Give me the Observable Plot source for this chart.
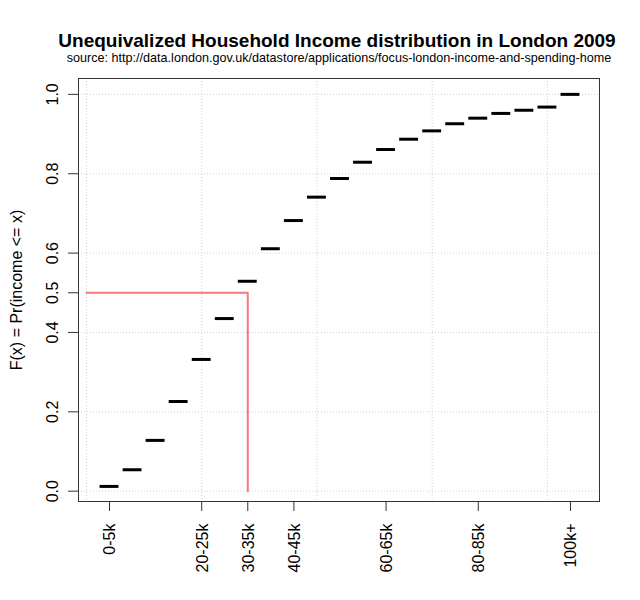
<!DOCTYPE html>
<html><head><meta charset="utf-8">
<script src="https://cdn.jsdelivr.net/npm/d3@7"></script>
<script src="https://cdn.jsdelivr.net/npm/@observablehq/plot@0.6"></script>
<style>
body{margin:0;background:#fff;font-family:"Liberation Sans",Arial,Helvetica,sans-serif;}
#wrap{position:relative;width:640px;height:600px;overflow:hidden;}
#head{position:relative;height:70px;}
#title{position:absolute;left:337px;top:30.5px;transform:translateX(-50%);white-space:nowrap;font-weight:bold;font-size:19px;line-height:1;color:#000;}
#sub{position:absolute;left:339px;top:52px;transform:translateX(-50%);white-space:nowrap;font-size:12.6px;line-height:1;color:#000;}
#chart svg{display:block;}
</style></head><body>
<div id="wrap">
  <div id="head">
    <div id="title">Unequivalized Household Income distribution in London 2009</div>
    <div id="sub">source: http://data.london.gov.uk/datastore/applications/focus-london-income-and-spending-home</div>
  </div>
  <div id="chart"></div>
</div>
<script>
// Income bands (categories) and cumulative share of households F(x)
const categories = ["0-5k","5-10k","10-15k","15-20k","20-25k","25-30k","30-35k","35-40k","40-45k","45-50k",
  "50-55k","55-60k","60-65k","65-70k","70-75k","75-80k","80-85k","85-90k","90-95k","95-100k","100k+"];
const cumulative = [0.012,0.054,0.128,0.226,0.332,0.435,0.529,0.611,0.682,0.741,
  0.788,0.829,0.861,0.887,0.908,0.926,0.940,0.952,0.960,0.968,1.000];
// x-axis tick positions (1-based band index) and y ticks
const xTickIdx = [1,5,7,9,13,17,21];
const yTicks = [0,0.2,0.4,0.5,0.6,0.8,1];
const yTickLabels = ["0.0","0.2","0.4","0.5","0.6","0.8","1.0"];
const xGrid = [0,5,10,15,20];
const yGrid = [0,0.2,0.4,0.6,0.8,1];
// median marker: probability 0.5 reached at band 7 (30-35k)
const medianProb = 0.5;
const medianIdx = 7;

const data = categories.map((c,i)=>({idx:i+1, label:c, p:cumulative[i]}));
const medianPath = [{x:0,y:medianProb},{x:medianIdx,y:medianProb},{x:medianIdx,y:0}];

const chart = Plot.plot({
  width:640, height:530,
  marginTop:8, marginBottom:99, marginLeft:78, marginRight:41,
  x:{domain:[-0.345,22.26], axis:null},
  y:{domain:[-0.026,1.04], axis:null},
  style:{fontFamily:"'Liberation Sans', Arial, Helvetica, sans-serif", fontSize:"16px", background:"white", color:"black"},
  marks:[
    Plot.ruleX(xGrid, {x:d=>d, stroke:"#d3d3d3", strokeOpacity:1, strokeDasharray:"1,2"}),
    Plot.ruleY(yGrid, {y:d=>d, stroke:"#d3d3d3", strokeOpacity:1, strokeDasharray:"1,2"}),
    Plot.line(medianPath, {x:"x", y:"y", stroke:"#f47a7a", strokeWidth:2}),
    Plot.ruleY(data, {y:"p", x1:d=>d.idx-0.41, x2:d=>d.idx+0.41, stroke:"black", strokeWidth:3}),
    Plot.frame({stroke:"#333", strokeWidth:1}),
    Plot.axisX({ticks:xTickIdx, tickSize:10, tickFormat:()=>"", anchor:"bottom", stroke:"#333", label:null}),
    Plot.axisY({ticks:yTicks, tickSize:10, tickFormat:()=>"", anchor:"left", stroke:"#333", label:null}),
    Plot.text(xTickIdx, {x:d=>d, frameAnchor:"bottom", text:d=>categories[d-1], rotate:-90,
      textAnchor:"end", lineAnchor:"bottom", dx:6, dy:22, fontSize:16, fill:"black"}),
    Plot.text(yTicks, {y:d=>d, frameAnchor:"left", text:(d,i)=>yTickLabels[i], rotate:-90,
      textAnchor:"middle", lineAnchor:"bottom", dx:-21, fontSize:16, fill:"black"}),
    Plot.text(["F(x) = Pr(income <= x)"], {frameAnchor:"left", text:d=>d, rotate:-90,
      textAnchor:"middle", lineAnchor:"bottom", dx:-57, fontSize:16, fill:"black"})
  ]
});
document.getElementById("chart").appendChild(chart);
</script>
</body></html>
